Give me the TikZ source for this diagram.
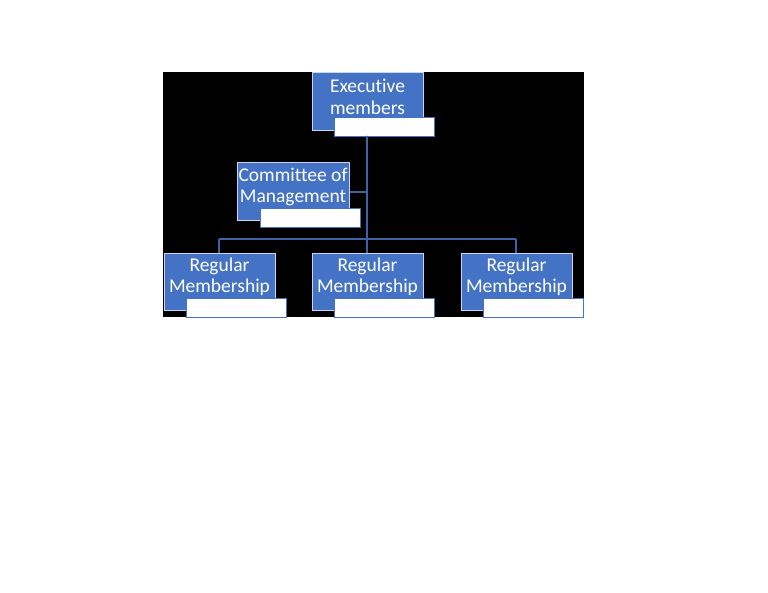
\documentclass[tikz,border=0pt]{standalone}
\usepackage{fontspec}
\setmainfont{Carlito}[Ligatures={NoCommon}]
\begin{document}
\begin{tikzpicture}[x=1pt,y=-1pt,
  orgbox/.style={draw=boxedge,line width=0.9pt,fill=boxblue,inner sep=0pt},
  orgtext/.style={text=white,font=\fontsize{19.5}{21.5}\selectfont,align=center,inner sep=0pt},
  lblbox/.style={draw=boxblue,line width=0.9pt,fill=white,inner sep=0pt},
  conn/.style={draw=linkblue,line width=1.3pt}]
\definecolor{boxblue}{HTML}{4472C4}
\definecolor{boxedge}{HTML}{C9D6EE}
\definecolor{linkblue}{HTML}{3F62A6}
\useasboundingbox (0,0) rectangle (768,593);
\fill[white] (0,0) rectangle (768,593);
\fill[black] (163,72) rectangle (584,317);
% connectors
\coordinate (top) at (367,136);
\coordinate (cj) at (367,192);
\coordinate (hj) at (367,239);
\coordinate (hl) at (219,239);
\coordinate (hr) at (516,239);
% boxes
\node[orgbox,minimum width=111pt,minimum height=58pt,anchor=north west] (exec) at (312,72) {};
\node[lblbox,minimum width=100pt,minimum height=19pt,anchor=north west] (execl) at (334,117) {};
\node[orgtext] (exect) at (367.5,97) {Executive\\members};
\node[orgbox,minimum width=112pt,minimum height=58pt,anchor=north west] (com) at (237,162) {};
\node[lblbox,minimum width=100pt,minimum height=19pt,anchor=north west] (coml) at (260,208) {};
\node[orgtext] (comt) at (293,187) {Committee of\\Management};
\draw[conn] (execl.south -| top) -- (top) -- (hj);
\draw[conn] (com.east |- cj) -- (cj);
\draw[conn] (hl) -- (hr);
\foreach \i/\x in {1/164,2/312,3/461}{
  \node[orgbox,minimum width=111pt,minimum height=57pt,anchor=north west] (reg\i) at (\x,253) {};
  \node[lblbox,minimum width=100pt,minimum height=19pt,anchor=north west] (regl\i) at (\x+22,298) {};
  \node[orgtext] (regt\i) at (\x+55.5,277) {Regular\\Membership};
}
\draw[conn] (hl) -- (reg1.north -| hl);
\draw[conn] (hj) -- (reg2.north -| hj);
\draw[conn] (hr) -- (reg3.north -| hr);
\end{tikzpicture}
\end{document}
